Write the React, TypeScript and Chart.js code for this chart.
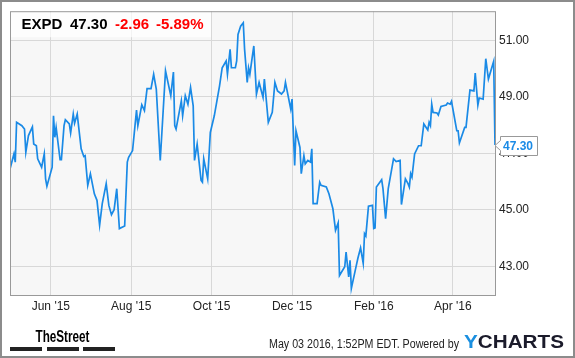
import React, { useEffect, useRef } from 'react';
import { Chart, registerables } from 'chart.js';

Chart.register(...registerables);

// Days counted from May 1 2015
const DAYS = [
  0, 3, 4, 5, 9, 11, 12, 14, 17, 18, 20, 21, 24, 26, 27, 28, 32, 33, 34, 35, 38, 39, 41, 42, 45, 46, 48, 49, 51, 54,
  56, 57, 59, 61, 64, 66, 68, 70, 73, 75, 77, 79, 81, 83, 87, 89, 90, 93, 96, 97, 100, 102, 104, 107, 109, 111, 114,
  118, 122, 124, 125, 126, 130, 131, 133, 135, 137, 139, 140, 142, 145, 146, 147, 150, 152, 155, 157, 159, 161, 164,
  165, 167, 168, 171, 172, 173, 175, 177, 178, 180, 181, 182, 185, 187, 189, 192, 193, 196, 199, 201, 203, 206, 208,
  209, 213, 214, 216, 217, 220, 221, 223, 224, 226, 228, 229, 230, 233, 235, 236, 240, 242, 245, 247, 249, 250, 254,
  255, 257, 258, 259, 262, 264, 266, 268, 269, 270, 272, 275, 276, 277, 278, 282, 283, 285, 287, 291, 293, 296, 297,
  300, 302, 303, 304, 305, 307, 310, 312, 314, 317, 318, 319, 320, 321, 324, 325, 327, 331, 332, 334, 335, 339, 340,
  341, 345, 346, 349, 352, 353, 355, 356, 359, 361, 363, 367, 368,
];
const PRICES = [
  46.45, 46.98, 46.69, 48.1, 47.98, 47.86, 47.04, 47.63, 47.94, 47.33, 47.27, 46.81, 46.51, 46.98, 46.1, 45.84, 46.51,
  48.33, 47.57, 47.92, 46.78, 46.78, 47.98, 48.19, 48.04, 47.72, 48.39, 48.07, 48.39, 47.16, 46.89, 46.92, 45.87,
  46.28, 45.57, 45.34, 44.46, 45.22, 45.93, 45.16, 44.83, 45.01, 45.75, 44.34, 44.43, 46.69, 46.86, 47.1, 48.53, 47.98,
  48.72, 48.51, 49.29, 49.29, 49.8, 49.27, 46.75, 49.92, 49.04, 49.88, 47.98, 47.86, 48.86, 48.33, 49.04, 48.74,
  49.33, 48.68, 46.75, 47.33, 46.04, 45.98, 46.81, 46.1, 47.74, 48.33, 48.86, 49.39, 50.03, 50.27, 49.8, 50.68, 50.03,
  50.03, 50.27, 51.21, 51.5, 51.62, 50.68, 49.51, 50.02, 49.8, 50.8, 49.1, 49.51, 48.98, 49.63, 48.1, 48.45, 49.51,
  49.21, 49.1, 49.21, 49.51, 48.57, 48.92, 46.57, 47.8, 47.21, 46.28, 46.92, 46.63, 46.75, 46.69, 47.16, 45.22, 45.22,
  45.98, 45.87, 45.81, 45.57, 45.04, 44.28, 44.54, 42.68, 42.99, 43.51, 42.63, 43.22, 42.22, 42.87, 43.3, 43.66,
  43.11, 44.16, 44.08, 45.13, 45.16, 44.34, 44.36, 45.81, 46.07, 45.75, 44.69, 45.75, 46.81, 46.71, 46.75, 45.19,
  46.1, 45.93, 45.81, 46.28, 46.16, 46.98, 47.27, 47.27, 48.04, 47.83, 48.1, 47.98, 48.74, 48.45, 48.43, 48.36, 48.66,
  48.71, 48.78, 48.74, 48.84, 47.8, 47.8, 47.37, 47.92, 47.92, 49.24, 49.21, 49.84, 48.71, 48.96, 48.92, 50.35, 49.63,
  50.26, 47.3,
];

const X_TICK_DAYS = [31, 92, 153, 214, 276, 336];
const X_TICK_LABELS = ["Jun '15", "Aug '15", "Oct '15", "Dec '15", "Feb '16", "Apr '16"];
const Y_TICKS = [43, 45, 47, 49, 51];

const SYMBOL = 'EXPD';
const LAST = '47.30';
const LAST_VALUE = 47.3;
const CHANGE = '-2.96';
const CHANGE_PCT = '-5.89%';
const TIMESTAMP = 'May 03 2016, 1:52PM EDT. Powered by';
const BRAND_LEFT = 'TheStreet';

const BLUE = '#1a8ae6';
const FONT = "'Liberation Sans', Arial, sans-serif";

function drawFitted(ctx: CanvasRenderingContext2D, text: string, x: number, y: number, width: number) {
  const w = ctx.measureText(text).width;
  ctx.save();
  ctx.translate(x, y);
  ctx.scale(width / w, 1);
  ctx.fillText(text, 0, 0);
  ctx.restore();
}

const decor = {
  id: 'decor',
  beforeDraw(chart: any) {
    const { ctx, chartArea: a } = chart;
    ctx.save();
    ctx.fillStyle = '#ffffff';
    ctx.fillRect(0, 0, chart.width, chart.height);
    ctx.fillStyle = '#f7f7f7';
    ctx.fillRect(a.left, a.top, a.right - a.left, a.bottom - a.top);
    ctx.restore();
  },
  afterDraw(chart: any) {
    const { ctx, chartArea: a } = chart;
    const yScale = chart.scales.y;
    ctx.save();
    // header overlay
    ctx.fillStyle = 'rgba(255,255,255,0.7)';
    ctx.fillRect(a.left + 1, a.top + 1, 200, 25);
    ctx.textBaseline = 'alphabetic';
    ctx.textAlign = 'left';
    ctx.font = `bold 15px ${FONT}`;
    ctx.fillStyle = '#000';
    ctx.fillText(SYMBOL, 21.5, 29);
    ctx.fillText(LAST, 70, 29);
    ctx.fillStyle = '#ff0000';
    ctx.fillText(CHANGE, 115, 29);
    ctx.fillText(CHANGE_PCT, 156, 29);

    // plot border
    ctx.strokeStyle = '#999';
    ctx.lineWidth = 1;
    ctx.strokeRect(a.left + 0.5, a.top + 0.5, a.right - a.left, a.bottom - a.top);

    // last value label
    const yv = Math.round(yScale.getPixelForValue(LAST_VALUE)) + 0.5;
    const bx = a.right + 5.5;
    ctx.beginPath();
    ctx.moveTo(a.right, yv);
    ctx.lineTo(bx, yv - 5);
    ctx.lineTo(bx, yv - 9);
    ctx.lineTo(bx + 37, yv - 9);
    ctx.lineTo(bx + 37, yv + 10);
    ctx.lineTo(bx, yv + 10);
    ctx.lineTo(bx, yv + 5);
    ctx.closePath();
    ctx.fillStyle = '#fff';
    ctx.fill();
    ctx.strokeStyle = '#999';
    ctx.stroke();
    ctx.fillStyle = BLUE;
    ctx.font = `bold 12px ${FONT}`;
    ctx.textBaseline = 'middle';
    ctx.fillText(LAST, bx + 2.5, yv + 1);

    // footer
    ctx.fillStyle = '#000';
    ctx.font = `bold 16px ${FONT}`;
    ctx.textBaseline = 'alphabetic';
    drawFitted(ctx, BRAND_LEFT, 35.5, 341.5, 54);
    ctx.fillStyle = '#222';
    ctx.fillRect(10, 347, 32, 4);
    ctx.fillRect(47, 347, 32, 4);
    ctx.fillRect(83, 347, 32, 4);

    ctx.fillStyle = '#222';
    ctx.font = `12px ${FONT}`;
    ctx.textBaseline = 'middle';
    drawFitted(ctx, TIMESTAMP, 269, 345, 190);

    ctx.font = `bold 18px ${FONT}`;
    ctx.textBaseline = 'alphabetic';
    const full = ctx.measureText('YCHARTS').width;
    const yw = ctx.measureText('Y').width;
    const sx = 100 / full;
    ctx.save();
    ctx.translate(464, 348.3);
    ctx.scale(sx, 1.05);
    ctx.fillStyle = '#1a8fe0';
    ctx.fillText('Y', 0, 0);
    ctx.fillStyle = '#1b1b2b';
    ctx.fillText('CHARTS', yw, 0);
    ctx.restore();

    // outer frame
    ctx.strokeStyle = '#8c8c8c';
    ctx.lineWidth = 2;
    ctx.strokeRect(1, 1, chart.width - 2, chart.height - 2);
    ctx.restore();
  },
};

export default function App() {
  const ref = useRef<HTMLCanvasElement>(null);
  useEffect(() => {
    if (!ref.current) return;
    const points = DAYS.map((d, i) => ({ x: d, y: PRICES[i] }));
    const chart = new Chart(ref.current, {
      type: 'line',
      data: {
        datasets: [
          {
            data: points,
            borderColor: BLUE,
            borderWidth: 1.7,
            pointRadius: 0,
            tension: 0,
            fill: false,
          },
        ],
      },
      options: {
        responsive: false,
        animation: false,
        maintainAspectRatio: false,
        layout: { padding: { left: 10, top: 10, right: 0, bottom: 0 } },
        plugins: { legend: { display: false }, tooltip: { enabled: false }, title: { display: false } },
        scales: {
          x: {
            type: 'linear',
            min: 0,
            max: 368,
            position: 'bottom',
            border: { display: false },
            grid: { color: '#d8d8d8', drawTicks: false, lineWidth: 1 },
            afterBuildTicks: (s: any) => {
              s.ticks = X_TICK_DAYS.map((v) => ({ value: v }));
            },
            afterFit: (s: any) => {
              s.height = 63;
            },
            ticks: {
              autoSkip: false,
              maxRotation: 0,
              padding: 4,
              color: '#222',
              font: { family: FONT, size: 12 },
              callback: (v: any) => {
                const i = X_TICK_DAYS.indexOf(Number(v));
                return i >= 0 ? X_TICK_LABELS[i] : '';
              },
            },
          },
          y: {
            type: 'linear',
            position: 'right',
            min: 41.99,
            max: 52.03,
            border: { display: false },
            grid: { color: '#d8d8d8', drawTicks: false, lineWidth: 1 },
            afterBuildTicks: (s: any) => {
              s.ticks = Y_TICKS.map((v) => ({ value: v }));
            },
            afterFit: (s: any) => {
              s.width = 80;
            },
            ticks: {
              padding: 4,
              color: '#222',
              font: { family: FONT, size: 12 },
              callback: (v: any) => Number(v).toFixed(2),
            },
          },
        },
      },
      plugins: [decor],
    });
    return () => chart.destroy();
  }, []);
  return (
    <div style={{ position: 'fixed', left: 0, top: 0, width: 575, height: 358 }}>
      <canvas ref={ref} width={575} height={358} style={{ display: 'block', width: 575, height: 358 }} />
    </div>
  );
}
